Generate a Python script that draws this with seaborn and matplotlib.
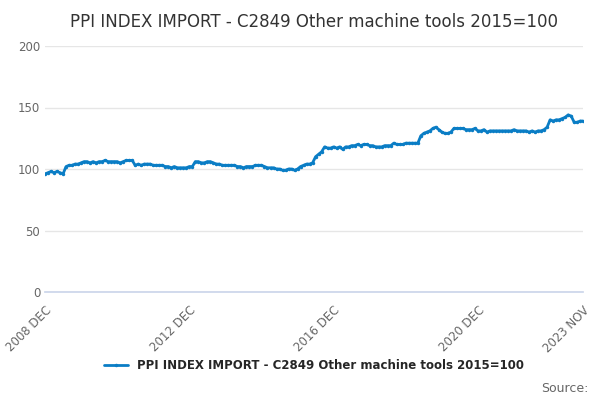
import matplotlib
matplotlib.use("Agg")
import matplotlib.pyplot as plt
import seaborn as sns
import pandas as pd

values = [96,97,98,97,98,97,96,
 102,103,103,104,104,105,106,106,105,106,105,106,106,107,106,106,106,106,105,106,107,107,107,
 103,104,103,104,104,104,103,103,103,103,102,102,101,102,101,101,101,101,102,102,
 106,106,105,105,106,106,105,104,104,103,103,103,103,103,102,102,101,102,102,102,103,103,103,102,101,101,101,100,100,99,
 99,100,100,99,100,102,103,104,104,105,110,112,114,118,117,117,
 118,117,118,116,118,118,119,119,120,119,120,120,119,119,118,118,118,119,119,119,121,120,120,120,121,121,121,121,121,
 127,129,130,131,133,134,132,130,129,129,130,133,133,133,133,132,132,132,133,131,131,132,130,131,131,131,131,131,131,131,131,132,131,131,131,131,130,131,130,131,131,132,134,
 140,139,140,140,141,142,144,143,138,138,139,139]
tick_pos = [0, 48, 96, 144, 179]
tick_labels = ["2008 DEC", "2012 DEC", "2016 DEC", "2020 DEC", "2023 NOV"]
series = "PPI INDEX IMPORT - C2849 Other machine tools 2015=100"

df = pd.DataFrame({"month": range(len(values)), "value": values})

sns.set_theme(style="white")
fig, ax = plt.subplots(figsize=(6, 4), dpi=100)
sns.lineplot(data=df, x="month", y="value", ax=ax, color="#0a7dc5", lw=2,
             marker="o", markersize=2.5, markeredgewidth=0, label=series)
ax.set_ylim(0, 200)
ax.set_yticks([0, 50, 100, 150, 200])
ax.set_xlim(0, 179)
ax.set_xticks(tick_pos)
ax.set_xticklabels(tick_labels, rotation=45, ha="right", rotation_mode="anchor")
ax.tick_params(labelsize=8.5, colors="#666666", length=0)
ax.tick_params(axis="x", length=5, color="#ccd6eb")
ax.yaxis.grid(True, color="#e6e6e6")
for s in ["top", "right", "left"]:
    ax.spines[s].set_visible(False)
ax.spines["bottom"].set_color("#ccd6eb")
ax.set_xlabel(""); ax.set_ylabel("")
ax.set_title(series, fontsize=12, color="#333333", pad=14)
ax.legend(loc="upper center", bbox_to_anchor=(0.5, -0.23), frameon=False,
          prop={"weight": "bold", "size": 8.5})
fig.text(0.98, 0.02, "Source:", ha="right", fontsize=9, color="#666666")
fig.subplots_adjust(left=0.075, right=0.972, top=0.885, bottom=0.27)
fig.savefig("out.png")
